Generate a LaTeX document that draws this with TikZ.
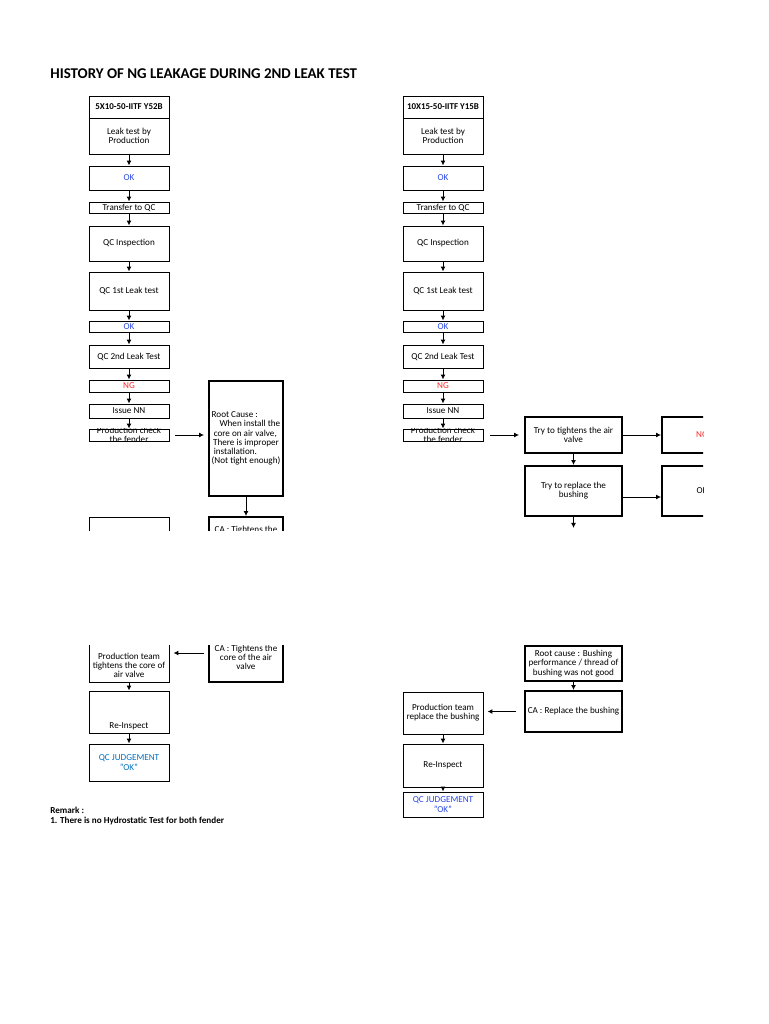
\documentclass[tikz,border=0pt]{standalone}
\usepackage{fontspec}
\setmainfont{Carlito}
\usetikzlibrary{arrows.meta,positioning}
\definecolor{ok blue}{RGB}{40,70,230}
\definecolor{judge blue}{RGB}{0,112,192}
\definecolor{ng red}{RGB}{255,40,40}
\tikzstyle{box} = [draw, line width=0.55pt, minimum width=1.6cm, inner sep=0pt, align=center, font=\fontsize{5.2}{5.2}\selectfont]
\tikzstyle{thick box} = [box, line width=1.1pt]
\tikzstyle{flow arrow} = [-{Latex[length=0.1cm,width=0.1cm]}, line width=0.55pt]

\begin{document}
\begin{tikzpicture}[x=0.02cm,y=-0.02cm]
        \useasboundingbox (0,0) rectangle (768,1024);

        \node[anchor=west, inner sep=0pt, font=\bfseries\fontsize{8.5}{9}\selectfont] (title) at (50,74) {HISTORY OF NG LEAKAGE DURING 2ND LEAK TEST};

        % first fender
        \node[box, minimum height=0.44cm, font=\bfseries\fontsize{5.1}{5.2}\selectfont] (head1) at (129,107) {5X10-50-IITF Y52B};
        \node[box, minimum height=0.72cm] (leak1) at (129,136) {Leak test by\\Production};
        \node[box, minimum height=0.48cm, text=ok blue] (ok1) at (129,178) {OK};
        \node[box, minimum height=0.22cm] (transfer1) at (129,207.5) {Transfer to QC};
        \node[box, minimum height=0.70cm] (inspect1) at (129,243.5) {QC Inspection};
        \node[box, minimum height=0.76cm] (first1) at (129,291) {QC 1st Leak test};
        \node[box, minimum height=0.22cm, text=ok blue] (okb1) at (129,326.5) {OK};
        \node[box, minimum height=0.46cm] (second1) at (129,356.5) {QC 2nd Leak Test};
        \node[box, minimum height=0.24cm, text=ng red] (ng1) at (129,386) {NG};
        \node[box, minimum height=0.28cm] (issue1) at (129,411) {Issue NN};
        \node[box, minimum height=0.24cm] (check1) at (129,435) {};
        \begin{scope}
            \clip (check1.south west) rectangle (check1.north east);
            \node[box, draw=none] (checktext1) at (check1) {Production check\\the fender};
        \end{scope}

        \node[thick box, minimum width=1.48cm, minimum height=2.3cm, align=left] (cause1) at (246,438.5) {Root Cause :\\\hspace*{4.5pt}When install the\\\hspace*{1.2pt}core on air valve,\\\hspace*{0.8pt}There is improper\\\hspace*{1.2pt}installation.\\(Not tight enough)};

        \begin{scope}
            \clip (0,0) rectangle (768,530);
            \node[box, minimum height=0.52cm] (team1a) at (129,530) {};
            \node[thick box, minimum width=1.48cm, minimum height=0.52cm] (fix1a) at (246,530) {CA : Tightens the};
        \end{scope}

        \begin{scope}
            \clip (0,645) rectangle (768,1024);
            \node[box, minimum height=1.0cm] (team1b) at (129,657) {};
            \node[thick box, minimum width=1.48cm, minimum height=1.0cm] (fix1b) at (246,657) {CA : Tightens the\\core of the air\\valve};
        \end{scope}
        \node[box, draw=none] (teamtext1) at (129,665) {Production team\\tightens the core of\\air valve};
        \node[box, minimum height=0.84cm] (recheck1) at (129,712) {};
        \node[box, draw=none] (rechecktext1) at (129,726) {Re-Inspect};
        \node[box, minimum height=0.74cm, text=judge blue] (judge1) at (129,762.5) {QC JUDGEMENT\\"OK"};

        \draw[flow arrow] (leak1.south) to (ok1.north);
        \draw[flow arrow] (ok1.south) to (transfer1.north);
        \draw[flow arrow] (transfer1.south) to (inspect1.north);
        \draw[flow arrow] (inspect1.south) to (first1.north);
        \draw[flow arrow] (first1.south) to (okb1.north);
        \draw[flow arrow] (okb1.south) to (second1.north);
        \draw[flow arrow] (second1.south) to (ng1.north);
        \draw[flow arrow] (ng1.south) to (issue1.north);
        \draw[flow arrow] (issue1.south) to (check1.north);
        \draw[flow arrow, shorten <=0.12cm, shorten >=0.08cm] (check1.east) to (check1.east -| cause1.west);
        \draw[flow arrow] (cause1.south) to (fix1a.north);
        \draw[flow arrow, shorten <=0.08cm, shorten >=0.08cm] ([yshift=0.08cm]fix1b.west) to ([yshift=0.08cm]team1b.east);
        \draw[flow arrow] (team1b.south) to (recheck1.north);
        \draw[flow arrow] (recheck1.south) to (judge1.north);

        % second fender
        \node[box, minimum height=0.44cm, font=\bfseries\fontsize{5.1}{5.2}\selectfont] (head2) at (443,107) {10X15-50-IITF Y15B};
        \node[box, minimum height=0.72cm] (leak2) at (443,136) {Leak test by\\Production};
        \node[box, minimum height=0.48cm, text=ok blue] (ok2) at (443,178) {OK};
        \node[box, minimum height=0.22cm] (transfer2) at (443,207.5) {Transfer to QC};
        \node[box, minimum height=0.70cm] (inspect2) at (443,243.5) {QC Inspection};
        \node[box, minimum height=0.76cm] (first2) at (443,291) {QC 1st Leak test};
        \node[box, minimum height=0.22cm, text=ok blue] (okb2) at (443,326.5) {OK};
        \node[box, minimum height=0.46cm] (second2) at (443,356.5) {QC 2nd Leak Test};
        \node[box, minimum height=0.24cm, text=ng red] (ng2) at (443,386) {NG};
        \node[box, minimum height=0.28cm] (issue2) at (443,411) {Issue NN};
        \node[box, minimum height=0.24cm] (check2) at (443,435) {};
        \begin{scope}
            \clip (check2.south west) rectangle (check2.north east);
            \node[box, draw=none] (checktext2) at (check2) {Production check\\the fender};
        \end{scope}

        \node[thick box, minimum width=1.94cm, minimum height=0.72cm] (tighten2) at (573.5,435) {Try to tightens the air\\valve};
        \node[thick box, minimum width=1.94cm, minimum height=1.0cm] (replace2) at (573.5,491) {Try to replace the\\bushing};
        \coordinate (cut2) at ([yshift=-0.22cm]replace2.south);
        \begin{scope}
            \clip (0,0) rectangle (703,1024);
            \node[thick box, minimum height=0.72cm, text=ng red] (ng3) at (702,435) {NG};
            \node[thick box, minimum height=1.0cm] (ok3) at (702,491) {OK};
        \end{scope}

        \node[thick box, minimum width=1.94cm, minimum height=0.70cm] (cause2) at (573.5,663.5) {Root cause : Bushing\\performance / thread of\\bushing was not good};
        \node[thick box, minimum width=1.94cm, minimum height=0.82cm] (fix2) at (573.5,711.5) {CA : Replace the bushing};
        \node[box, minimum height=0.84cm] (team2) at (443,713) {Production team\\replace the bushing};
        \node[box, minimum height=0.86cm] (recheck2) at (443,765.5) {Re-Inspect};
        \node[box, minimum height=0.50cm, text=ok blue] (judge2) at (443,804.5) {QC JUDGEMENT\\"OK"};

        \draw[flow arrow] (leak2.south) to (ok2.north);
        \draw[flow arrow] (ok2.south) to (transfer2.north);
        \draw[flow arrow] (transfer2.south) to (inspect2.north);
        \draw[flow arrow] (inspect2.south) to (first2.north);
        \draw[flow arrow] (first2.south) to (okb2.north);
        \draw[flow arrow] (okb2.south) to (second2.north);
        \draw[flow arrow] (second2.south) to (ng2.north);
        \draw[flow arrow] (ng2.south) to (issue2.north);
        \draw[flow arrow] (issue2.south) to (check2.north);
        \draw[flow arrow, shorten <=0.14cm, shorten >=0.1cm] (check2.east) to (check2.east -| tighten2.west);
        \draw[flow arrow] (tighten2.east) to (ng3.west);
        \draw[flow arrow] (tighten2.south) to (replace2.north);
        \draw[flow arrow] ([yshift=-0.12cm]replace2.east) to ([yshift=-0.12cm]ok3.west);
        \draw[flow arrow] (replace2.south) to (cut2);
        \draw[flow arrow] (cause2.south) to (fix2.north);
        \draw[flow arrow, shorten <=0.16cm, shorten >=0.08cm] (fix2.west) to (fix2.west -| team2.east);
        \draw[flow arrow] (team2.south) to (recheck2.north);
        \draw[flow arrow] (recheck2.south) to (judge2.north);

        \node[anchor=west, inner sep=0pt, align=left, font=\bfseries\fontsize{5.2}{6}\selectfont] (remark) at (50,816) {Remark :\\1. There is no Hydrostatic Test for both fender};
\end{tikzpicture}
\end{document}
